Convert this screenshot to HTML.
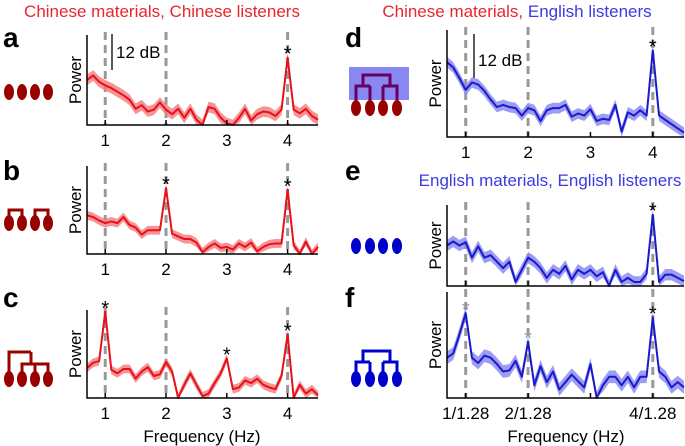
<!DOCTYPE html>
<html><head><meta charset="utf-8"><style>
html,body{margin:0;padding:0;background:#fff;}
svg{display:block;font-family:"Liberation Sans",sans-serif;}
</style></head><body>
<svg id="fig" width="685" height="446" viewBox="0 0 685 446" xmlns="http://www.w3.org/2000/svg">
<text x="162" y="17" font-size="17" fill="#e8262a" text-anchor="middle">Chinese materials, Chinese listeners</text>
<text x="517" y="17" font-size="17" text-anchor="middle"><tspan fill="#e8262a">Chinese materials, </tspan><tspan fill="#3a3ae0">English listeners</tspan></text>
<text x="550" y="186" font-size="17" fill="#3a3ae0" text-anchor="middle">English materials, English listeners</text>
<g font-size="28" font-weight="bold" fill="#000">
<text x="3" y="47">a</text>
<text x="3" y="180">b</text>
<text x="3" y="307">c</text>
<text x="345" y="47">d</text>
<text x="345" y="180">e</text>
<text x="345" y="307">f</text>
</g>
<g fill="#990000">
<ellipse cx="9" cy="92" rx="5" ry="8"/><ellipse cx="22" cy="92" rx="5" ry="8"/><ellipse cx="35" cy="92" rx="5" ry="8"/><ellipse cx="48" cy="92" rx="5" ry="8"/>
</g>
<g fill="#990000" stroke="#990000">
<ellipse cx="9" cy="223" rx="5" ry="8" stroke="none"/><ellipse cx="22" cy="223" rx="5" ry="8" stroke="none"/><ellipse cx="35" cy="223" rx="5" ry="8" stroke="none"/><ellipse cx="48" cy="223" rx="5" ry="8" stroke="none"/>
<path d="M9 216V210H22V216M35 216V210H48V216" fill="none" stroke-width="3"/>
</g>
<g fill="#990000" stroke="#990000">
<ellipse cx="9" cy="379" rx="5" ry="8" stroke="none"/><ellipse cx="22" cy="379" rx="5" ry="8" stroke="none"/><ellipse cx="35" cy="379" rx="5" ry="8" stroke="none"/><ellipse cx="48" cy="379" rx="5" ry="8" stroke="none"/>
<path d="M9 372V352H31M22 372V364H48V372M35 372V364M31 364V352" fill="none" stroke-width="3"/>
</g>
<g>
<rect x="349" y="67" width="60" height="33" fill="#8888f0"/>
<path d="M356 104V86H370M383 86H397V104M370 104V86M383 104V86M363 86V75H390V86" fill="none" stroke="#660066" stroke-width="3"/>
<g fill="#990000"><ellipse cx="356" cy="108" rx="5" ry="8"/><ellipse cx="370" cy="108" rx="5" ry="8"/><ellipse cx="383" cy="108" rx="5" ry="8"/><ellipse cx="397" cy="108" rx="5" ry="8"/></g>
</g>
<g fill="#0000cc">
<ellipse cx="356" cy="246" rx="5" ry="8"/><ellipse cx="370" cy="246" rx="5" ry="8"/><ellipse cx="383" cy="246" rx="5" ry="8"/><ellipse cx="397" cy="246" rx="5" ry="8"/>
</g>
<g>
<path d="M356 372V362H370M383 362H397V372M370 372V362M383 372V362M363 362V351H390V362" fill="none" stroke="#0000cc" stroke-width="3"/>
<g fill="#0000cc"><ellipse cx="356" cy="379" rx="5" ry="8"/><ellipse cx="370" cy="379" rx="5" ry="8"/><ellipse cx="383" cy="379" rx="5" ry="8"/><ellipse cx="397" cy="379" rx="5" ry="8"/></g>
</g>
<g><line x1="112" y1="34" x2="112" y2="70" stroke="#000" stroke-width="1.3"/><text x="116" y="58" font-size="17">12 dB</text></g>
<g><line x1="474" y1="34" x2="474" y2="78" stroke="#000" stroke-width="1.3"/><text x="478" y="66" font-size="17">12 dB</text></g>
<text x="202" y="442" font-size="17" text-anchor="middle">Frequency (Hz)</text>
<text x="566" y="442" font-size="17" text-anchor="middle">Frequency (Hz)</text>
</svg>
<script>
const freqs = [0.7,0.8,0.9,1.0,1.1,1.2,1.3,1.4,1.5,1.6,1.7,1.8,1.9,2.0,2.1,2.2,2.3,2.4,2.5,2.6,2.7,2.8,2.9,3.0,3.1,3.2,3.3,3.4,3.5,3.6,3.7,3.8,3.9,4.0,4.1,4.2,4.3,4.4,4.5];
const powerA = [0.5,0.55,0.48,0.44,0.41,0.37,0.33,0.28,0.18,0.22,0.15,0.17,0.25,0.17,0.12,0.18,0.08,0.18,0.06,0,0.2,0.18,0.08,0.02,0,0.08,0.18,0.05,0.12,0.15,0.14,0.1,0.17,0.75,0.17,0.13,0.18,0.1,0.06];
const powerB = [0.44,0.42,0.38,0.35,0.37,0.35,0.42,0.33,0.3,0.22,0.27,0.27,0.27,0.75,0.23,0.2,0.17,0.17,0.13,0.02,0.08,0.12,0.07,0.08,0.05,0.12,0.08,0.13,0.03,0.08,0.11,0.12,0.12,0.73,0.1,0,0.14,0,0.08];
const powerC = [0.34,0.4,0.42,0.98,0.32,0.28,0.33,0.33,0.22,0.3,0.35,0.25,0.27,0.41,0.3,0,0.15,0.28,0.15,0.02,0.05,0.17,0.28,0.45,0.1,0.12,0.2,0.17,0.22,0.15,0.12,0.1,0.25,0.72,0,0.15,0.05,0.1,0.03];
const powerD = [0.7,0.65,0.55,0.44,0.51,0.49,0.43,0.35,0.28,0.3,0.28,0.27,0.2,0.27,0.25,0.15,0.25,0.27,0.27,0.3,0.19,0.22,0.2,0.26,0.15,0.17,0.16,0.3,0.05,0.23,0.2,0.25,0.2,0.81,0.2,0.16,0.12,0.08,0.04];
const powerE = [0.5,0.55,0.5,0.54,0.35,0.49,0.35,0.38,0.3,0.22,0.3,0.05,0.2,0.35,0.3,0.22,0.1,0.2,0.15,0.25,0.08,0.2,0.15,0.2,0.12,0.17,0,0.2,0.05,0.1,0.05,0.05,0.15,0.88,0.05,0.14,0.14,0.1,0.06];
const powerF = [0.38,0.42,0.6,0.8,0.38,0.33,0.4,0.38,0.32,0.25,0.26,0.35,0.2,0.53,0.12,0.3,0.15,0.25,0.08,0.15,0.22,0.16,0.1,0.32,0,0.12,0.2,0.2,0.12,0.2,0.1,0.2,0.2,0.76,0.25,0.2,0.1,0.15,0.1];
const tickValues = [1,2,3,4];
const tickLabelsNum = ["1","2","3","4"];
const tickLabelsF = ["1/1.28","2/1.28","","4/1.28"];
const dashedAt = [1,2,4];

const NS="http://www.w3.org/2000/svg";
const svg=document.getElementById('fig');
function mk(t,a){const e=document.createElementNS(NS,t);for(const k in a)e.setAttribute(k,a[k]);return e;}

function panel(id,x0,x1,top,bottom,vals,band,lineCol,bandCol,labels,stars,showLabels){
  const g=mk('g',{});
  
  
  svg.appendChild(g);
  const sx=f=>x0+(f-0.7)/(4.5-0.7)*(x1-x0);
  const sy=v=>bottom-v*(bottom-top);
  const clampY=y=>Math.min(bottom,Math.max(top-4,y));
  dashedAt.forEach(f=>{
    const l=mk('line',{x1:sx(f),x2:sx(f),y1:top-3,y2:bottom,stroke:'#999',"stroke-width":3,"stroke-dasharray":"8 5"});
    
    
    g.appendChild(l);
  });
  let up=[],dn=[];
  freqs.forEach((f,i)=>{up.push(sx(f)+','+clampY(sy(vals[i]+band)));dn.unshift(sx(f)+','+clampY(sy(vals[i]-band)));});
  const b=mk('polygon',{points:up.concat(dn).join(' '),fill:bandCol,opacity:0.8});
  
  
  g.appendChild(b);
  const pts=freqs.map((f,i)=>sx(f)+','+clampY(sy(vals[i]))).join(' ');
  const ln=mk('polyline',{points:pts,fill:'none',stroke:lineCol,"stroke-width":2,"stroke-linejoin":"round"});
  
  
  g.appendChild(ln);
  const ax=mk('path',{d:`M${x0} ${top}V${bottom}H${x1}`,fill:'none',stroke:'#000',"stroke-width":1.5});
  
  
  g.appendChild(ax);
  tickValues.forEach((t,i)=>{
    const tk=mk('line',{x1:sx(t),x2:sx(t),y1:bottom,y2:bottom-5,stroke:'#000',"stroke-width":1.5});
    
    
    g.appendChild(tk);
    if(showLabels && labels[i]){
      const tl=mk('text',{x:sx(t),y:bottom+21,"font-size":17,"text-anchor":"middle"});
      tl.textContent=labels[i];
      
      
      g.appendChild(tl);
    }
  });
  stars.forEach(s=>{
    const i=freqs.findIndex(f=>Math.abs(f-s[0])<1e-6);
    const st=mk('text',{x:sx(s[0]),y:sy(vals[i])+3,"font-size":20,"text-anchor":"middle",fill:s[1]});
    st.textContent='*';
    
    
    g.appendChild(st);
  });
  const yl=mk('text',{transform:`translate(${x0-6},${(top+bottom)/2}) rotate(-90)`,"font-size":17,"text-anchor":"middle"});
  yl.textContent='Power';
  
  
  g.appendChild(yl);
}
const R='#e8101a',RB='#f27a7a',B='#1a1acc',BB='#8484f0';
panel('a',87,318,35,125,powerA,0.06,R,RB,tickLabelsNum,[[4.0,'#000']],true);
panel('b',87,318,166,254,powerB,0.05,R,RB,tickLabelsNum,[[2.0,'#000'],[4.0,'#000']],true);
panel('c',87,318,310,398,powerC,0.05,R,RB,tickLabelsNum,[[1.0,'#000'],[3.0,'#000'],[4.0,'#000']],true);
panel('d',447,684,30,137,powerD,0.05,B,BB,tickLabelsNum,[[4.0,'#000']],true);
panel('e',447,684,205,286,powerE,0.07,B,BB,tickLabelsNum,[[4.0,'#000']],false);
panel('f',447,684,292,398,powerF,0.06,B,BB,tickLabelsF,[[1.0,'#999'],[2.0,'#999'],[4.0,'#000']],true);
</script>
</body></html>
